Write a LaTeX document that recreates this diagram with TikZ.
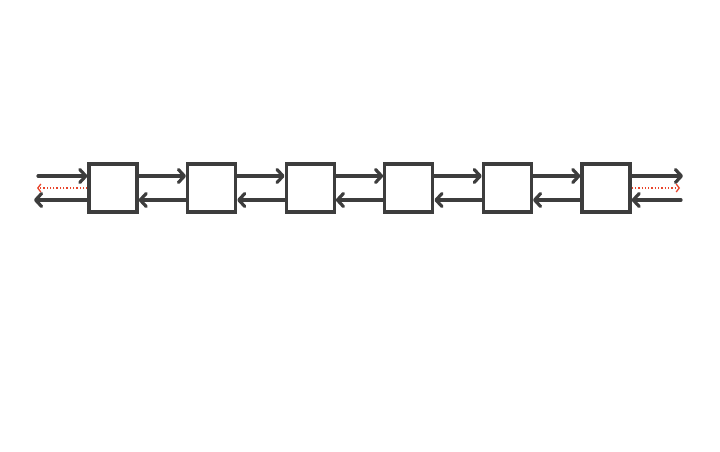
\documentclass[tikz,border=0pt]{standalone}
\usetikzlibrary{arrows.meta}
\definecolor{ink}{HTML}{3D3D3D}
\definecolor{redd}{HTML}{E8452C}
\begin{document}
\begin{tikzpicture}[x=1pt,y=-1pt,
  cell/.style={draw=ink,line width=3.2pt,minimum width=48pt,minimum height=48pt,inner sep=0pt,fill=white},
  arr/.style={draw=ink,line width=3.2pt,line cap=round,-{Straight Barb[length=6pt,width=13pt,line cap=round,line join=round]}},
  dot/.style={draw=redd,line width=1.3pt,dash pattern=on 1.3pt off 2pt,-{Straight Barb[length=3pt,width=8pt]}}]
\useasboundingbox (0,0) rectangle (720,451);
\foreach \i/\x in {1/113,2/211.6,3/310.2,4/408.8,5/507.4,6/606}
  \node[cell] (b\i) at (\x,188) {};
\foreach \i/\j in {1/2,2/3,3/4,4/5,5/6}{
  \draw[arr] ([yshift=12pt]b\i.east) -- ([yshift=12pt]b\j.west);
  \draw[arr] ([yshift=-12pt]b\j.west) -- ([yshift=-12pt]b\i.east);
}
\coordinate (lt) at (38,176);
\coordinate (lb) at (34,200);
\coordinate (ld) at (37,188);
\coordinate (rt) at (683,176);
\coordinate (rb) at (681,200);
\coordinate (rd) at (680,188);
\draw[arr] (lt) -- (lt -| b1.west);
\draw[arr] (lb -| b1.west) -- (lb);
\draw[dot] (ld -| b1.west) -- (ld);
\draw[arr] (rt -| b6.east) -- (rt);
\draw[arr] (rb) -- (rb -| b6.east);
\draw[dot] (rd -| b6.east) -- (rd);
\end{tikzpicture}
\end{document}
